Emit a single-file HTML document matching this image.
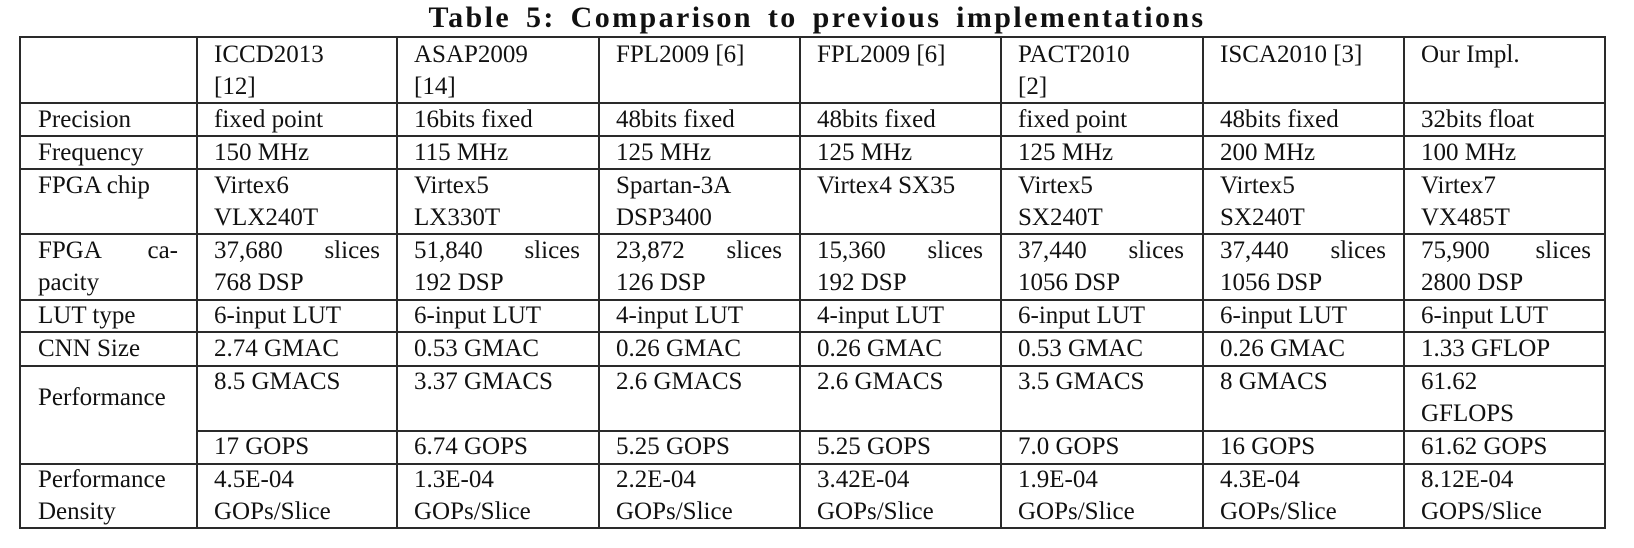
<!DOCTYPE html>
<html><head><meta charset="utf-8"><style>
body{margin:0;background:#fff;width:1634px;height:548px;position:relative;overflow:hidden;font-family:"Liberation Serif",serif;color:#111}
.h{position:absolute;height:2px;background:#2a2a2a}
.v{position:absolute;width:2px;background:#2a2a2a}
.t{position:absolute;font-size:25px;line-height:32px;white-space:nowrap}
.j{display:flex;justify-content:space-between;width:166px}
.jl{display:flex;justify-content:space-between;width:140px}
.ti{position:absolute;left:0;width:1634px;top:2px;text-align:center;font-weight:bold;font-size:30px;letter-spacing:2.4px;word-spacing:5px;line-height:32px}
</style></head><body>
<div class="ti">Table 5: Comparison to previous implementations</div>
<div class="h" style="left:20px;width:1586px;top:36px"></div>
<div class="h" style="left:20px;width:1586px;top:102px"></div>
<div class="h" style="left:20px;width:1586px;top:135px"></div>
<div class="h" style="left:20px;width:1586px;top:168px"></div>
<div class="h" style="left:20px;width:1586px;top:233px"></div>
<div class="h" style="left:20px;width:1586px;top:299px"></div>
<div class="h" style="left:20px;width:1586px;top:331px"></div>
<div class="h" style="left:20px;width:1586px;top:365px"></div>
<div class="h" style="left:197px;width:1409px;top:430px"></div>
<div class="h" style="left:20px;width:1586px;top:463px"></div>
<div class="h" style="left:20px;width:1586px;top:527px"></div>
<div class="v" style="top:36px;height:493px;left:19px"></div>
<div class="v" style="top:36px;height:493px;left:196px"></div>
<div class="v" style="top:36px;height:493px;left:396px"></div>
<div class="v" style="top:36px;height:493px;left:598px"></div>
<div class="v" style="top:36px;height:493px;left:799px"></div>
<div class="v" style="top:36px;height:493px;left:1000px"></div>
<div class="v" style="top:36px;height:493px;left:1202px"></div>
<div class="v" style="top:36px;height:493px;left:1403px"></div>
<div class="v" style="top:36px;height:493px;left:1604px"></div>

<div class="t" style="left:214px;top:39px">ICCD2013<br>[12]</div>
<div class="t" style="left:414px;top:39px">ASAP2009<br>[14]</div>
<div class="t" style="left:616px;top:39px">FPL2009 [6]</div>
<div class="t" style="left:817px;top:39px">FPL2009 [6]</div>
<div class="t" style="left:1018px;top:39px">PACT2010<br>[2]</div>
<div class="t" style="left:1220px;top:39px">ISCA2010 [3]</div>
<div class="t" style="left:1421px;top:39px">Our Impl.</div>

<div class="t" style="left:38px;top:104px">Precision</div>
<div class="t" style="left:214px;top:104px">fixed point</div>
<div class="t" style="left:414px;top:104px">16bits fixed</div>
<div class="t" style="left:616px;top:104px">48bits fixed</div>
<div class="t" style="left:817px;top:104px">48bits fixed</div>
<div class="t" style="left:1018px;top:104px">fixed point</div>
<div class="t" style="left:1220px;top:104px">48bits fixed</div>
<div class="t" style="left:1421px;top:104px">32bits float</div>

<div class="t" style="left:38px;top:137px">Frequency</div>
<div class="t" style="left:214px;top:137px">150 MHz</div>
<div class="t" style="left:414px;top:137px">115 MHz</div>
<div class="t" style="left:616px;top:137px">125 MHz</div>
<div class="t" style="left:817px;top:137px">125 MHz</div>
<div class="t" style="left:1018px;top:137px">125 MHz</div>
<div class="t" style="left:1220px;top:137px">200 MHz</div>
<div class="t" style="left:1421px;top:137px">100 MHz</div>

<div class="t" style="left:38px;top:170px">FPGA chip</div>
<div class="t" style="left:214px;top:170px">Virtex6<br>VLX240T</div>
<div class="t" style="left:414px;top:170px">Virtex5<br>LX330T</div>
<div class="t" style="left:616px;top:170px">Spartan-3A<br>DSP3400</div>
<div class="t" style="left:817px;top:170px">Virtex4 SX35</div>
<div class="t" style="left:1018px;top:170px">Virtex5<br>SX240T</div>
<div class="t" style="left:1220px;top:170px">Virtex5<br>SX240T</div>
<div class="t" style="left:1421px;top:170px">Virtex7<br>VX485T</div>

<div class="t" style="left:38px;top:235px"><div class="jl"><span>FPGA</span><span>ca-</span></div>pacity</div>
<div class="t" style="left:214px;top:235px"><div class="j"><span>37,680</span><span>slices</span></div>768 DSP</div>
<div class="t" style="left:414px;top:235px"><div class="j"><span>51,840</span><span>slices</span></div>192 DSP</div>
<div class="t" style="left:616px;top:235px"><div class="j"><span>23,872</span><span>slices</span></div>126 DSP</div>
<div class="t" style="left:817px;top:235px"><div class="j"><span>15,360</span><span>slices</span></div>192 DSP</div>
<div class="t" style="left:1018px;top:235px"><div class="j"><span>37,440</span><span>slices</span></div>1056 DSP</div>
<div class="t" style="left:1220px;top:235px"><div class="j"><span>37,440</span><span>slices</span></div>1056 DSP</div>
<div class="t" style="left:1421px;top:235px"><div class="j" style="width:170px"><span>75,900</span><span>slices</span></div>2800 DSP</div>

<div class="t" style="left:38px;top:300px">LUT type</div>
<div class="t" style="left:214px;top:300px">6-input LUT</div>
<div class="t" style="left:414px;top:300px">6-input LUT</div>
<div class="t" style="left:616px;top:300px">4-input LUT</div>
<div class="t" style="left:817px;top:300px">4-input LUT</div>
<div class="t" style="left:1018px;top:300px">6-input LUT</div>
<div class="t" style="left:1220px;top:300px">6-input LUT</div>
<div class="t" style="left:1421px;top:300px">6-input LUT</div>

<div class="t" style="left:38px;top:333px">CNN Size</div>
<div class="t" style="left:214px;top:333px">2.74 GMAC</div>
<div class="t" style="left:414px;top:333px">0.53 GMAC</div>
<div class="t" style="left:616px;top:333px">0.26 GMAC</div>
<div class="t" style="left:817px;top:333px">0.26 GMAC</div>
<div class="t" style="left:1018px;top:333px">0.53 GMAC</div>
<div class="t" style="left:1220px;top:333px">0.26 GMAC</div>
<div class="t" style="left:1421px;top:333px">1.33 GFLOP</div>

<div class="t" style="left:38px;top:382px">Performance</div>
<div class="t" style="left:214px;top:366px">8.5 GMACS</div>
<div class="t" style="left:414px;top:366px">3.37 GMACS</div>
<div class="t" style="left:616px;top:366px">2.6 GMACS</div>
<div class="t" style="left:817px;top:366px">2.6 GMACS</div>
<div class="t" style="left:1018px;top:366px">3.5 GMACS</div>
<div class="t" style="left:1220px;top:366px">8 GMACS</div>
<div class="t" style="left:1421px;top:366px">61.62<br>GFLOPS</div>

<div class="t" style="left:214px;top:431px">17 GOPS</div>
<div class="t" style="left:414px;top:431px">6.74 GOPS</div>
<div class="t" style="left:616px;top:431px">5.25 GOPS</div>
<div class="t" style="left:817px;top:431px">5.25 GOPS</div>
<div class="t" style="left:1018px;top:431px">7.0 GOPS</div>
<div class="t" style="left:1220px;top:431px">16 GOPS</div>
<div class="t" style="left:1421px;top:431px">61.62 GOPS</div>

<div class="t" style="left:38px;top:464px">Performance<br>Density</div>
<div class="t" style="left:214px;top:464px">4.5E-04<br>GOPs/Slice</div>
<div class="t" style="left:414px;top:464px">1.3E-04<br>GOPs/Slice</div>
<div class="t" style="left:616px;top:464px">2.2E-04<br>GOPs/Slice</div>
<div class="t" style="left:817px;top:464px">3.42E-04<br>GOPs/Slice</div>
<div class="t" style="left:1018px;top:464px">1.9E-04<br>GOPs/Slice</div>
<div class="t" style="left:1220px;top:464px">4.3E-04<br>GOPs/Slice</div>
<div class="t" style="left:1421px;top:464px">8.12E-04<br>GOPS/Slice</div>
</body></html>
